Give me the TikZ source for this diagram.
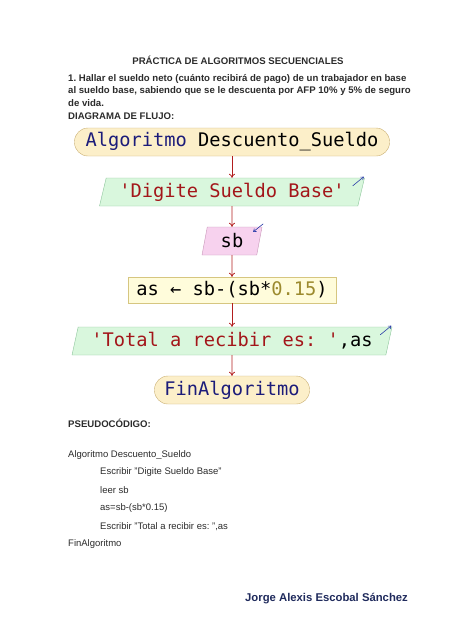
\documentclass[tikz,border=0pt]{standalone}
\usepackage{fontspec}
\setmainfont{Liberation Sans}
\newfontfamily\flowfont[Ligatures=TeXOff]{DejaVu Sans Mono}
\usetikzlibrary{shapes.geometric,arrows.meta}
\definecolor{kwblue}{HTML}{1C1C7A}
\definecolor{strred}{HTML}{A3161A}
\definecolor{numgold}{HTML}{9C8A2E}
\definecolor{flowred}{HTML}{B21E1E}
\definecolor{termfill}{HTML}{FCEFC9}
\definecolor{termdraw}{HTML}{C9AE72}
\definecolor{outfill}{HTML}{D9F7DD}
\definecolor{outdraw}{HTML}{8CC49A}
\definecolor{infill}{HTML}{F7D2EE}
\definecolor{indraw}{HTML}{C795B8}
\definecolor{procfill}{HTML}{FFFCDB}
\definecolor{procdraw}{HTML}{D6C680}
\definecolor{iotip}{HTML}{2A3CA8}
\definecolor{pagetext}{HTML}{2B2B2B}
\definecolor{authorblue}{HTML}{1F2A5C}
\newcommand{\flowsize}{\flowfont\fontsize{18.7}{20}\selectfont}
\frenchspacing
\begin{document}
\begin{tikzpicture}[x=1pt,y=-1pt,
    pagetitle/.style={font=\bfseries\fontsize{9.6}{10}\selectfont,text=pagetext,inner sep=0pt},
    pageline/.style={anchor=west,font=\bfseries\fontsize{9.6}{10}\selectfont,text=pagetext,inner sep=0pt},
    codeline/.style={anchor=west,font=\fontsize{9.5}{10}\selectfont,text=pagetext,inner sep=0pt},
    term/.style={draw=termdraw,fill=termfill,rounded corners=13.5pt,minimum height=28pt,inner sep=0pt,font=\flowsize},
    outbox/.style={trapezium,trapezium left angle=70,trapezium right angle=110,trapezium stretches body,
                   draw=outdraw,fill=outfill,minimum height=28pt,inner sep=0pt,font=\flowsize},
    inbox/.style={outbox,draw=indraw,fill=infill},
    procbox/.style={draw=procdraw,fill=procfill,minimum height=26pt,inner sep=0pt,font=\flowsize},
    flowarrow/.style={draw=flowred,thick,-{To[length=4pt,width=6pt]}},
    iomark/.style={draw=iotip,semithick,-{To[length=3pt,width=4pt]}}]
    \useasboundingbox (0,0) rectangle (474,632);
    % page heading
    \node[pagetitle] (title) at (238,60) {PRÁCTICA DE ALGORITMOS SECUENCIALES};
    \node[pageline] (task1) at (68,79) {1. Hallar el sueldo neto (cuánto recibirá de pago) de un trabajador en base};
    \node[pageline] (task2) at (68,91) {al sueldo base, sabiendo que se le descuenta por AFP 10\% y 5\% de seguro};
    \node[pageline] (task3) at (68,103) {de vida.};
    \node[pageline] (diag) at (68,116) {DIAGRAMA DE FLUJO:};
    % flowchart
    \node[term,minimum width=315pt] (start) at (232,142) {\textcolor{kwblue}{Algoritmo} Descuento\_Sueldo};
    \node[outbox,minimum width=265pt] (out1) at (232,192) {\textcolor{strred}{'Digite Sueldo Base'}};
    \node[inbox,minimum width=60pt] (in1) at (232,241) {sb};
    \node[procbox,minimum width=208pt] (proc) at (232,290) {as ← sb-(sb*\textcolor{numgold}{0.15})};
    \node[outbox,minimum width=320pt] (out2) at (232,341) {\textcolor{strred}{'Total a recibir es: '},as};
    \node[term,minimum width=155pt] (stop) at (232,390) {\textcolor{kwblue}{FinAlgoritmo}};
    \draw[flowarrow] (start) -- (out1);
    \draw[flowarrow] (out1) -- (in1);
    \draw[flowarrow] (in1) -- (proc);
    \draw[flowarrow] (proc) -- (out2);
    \draw[flowarrow] (out2) -- (stop);
    \draw[iomark] ([xshift=-12pt,yshift=-8pt]out1.top right corner) -- ++(11pt,9pt);
    \draw[iomark] ([xshift=1pt,yshift=3pt]in1.top right corner) -- ++(-10pt,-8pt);
    \draw[iomark] ([xshift=-12pt,yshift=-8pt]out2.top right corner) -- ++(11pt,9pt);
    % pseudocode
    \node[pageline] (pseudo) at (68,423) {PSEUDOCÓDIGO:};
    \node[codeline] (c1) at (68,455) {Algoritmo Descuento\_Sueldo};
    \node[codeline] (c2) at (100,472) {Escribir "Digite Sueldo Base"};
    \node[codeline] (c3) at (100,490) {leer sb};
    \node[codeline] (c4) at (100,508) {as=sb-(sb*0.15)};
    \node[codeline] (c5) at (100,527) {Escribir "Total a recibir es: ",as};
    \node[codeline] (c6) at (68,544) {FinAlgoritmo};
    \node[anchor=west,font=\bfseries\fontsize{11.3}{12}\selectfont,text=authorblue,inner sep=0pt] (author) at (245,599) {Jorge Alexis Escobal Sánchez};
\end{tikzpicture}
\end{document}
